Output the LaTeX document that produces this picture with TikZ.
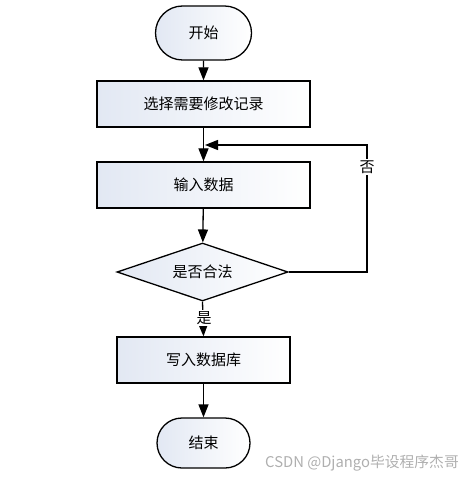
\documentclass[tikz,border=0pt]{standalone}
\usepackage{fontspec}
\setmainfont{Noto Sans CJK SC}
\usepackage{tikz}
\usetikzlibrary{positioning,shapes,calc,arrows.meta}
\usepackage{xcolor}
\definecolor{boxleft}{RGB}{226,232,243}
\definecolor{wmgray}{RGB}{175,175,175}

\tikzset{
  base/.style={draw=black,line width=1.3pt,font=\fontsize{15}{17}\selectfont,
    left color=boxleft,right color=white,inner sep=0pt},
  term/.style={base,rounded rectangle},
  proc/.style={base,rectangle,minimum height=46pt},
  decide/.style={base,diamond,aspect=2.95,minimum width=171pt,minimum height=58pt},
  arr/.style={line width=1.3pt,-{Triangle[width=10pt,length=13pt]}},
  lab/.style={fill=white,inner sep=1.5pt,font=\fontsize{15}{17}\selectfont}
}

\begin{document}
\begin{tikzpicture}[x=1pt,y=-1pt]
  \useasboundingbox (0,0) rectangle (474,478);
  % 流程节点
  \node[term,minimum width=96pt,minimum height=54pt] (start) at (203.5,33) {开始};
  \node[proc,minimum width=213pt] (select) at (203.5,104) {选择需要修改记录};
  \node[proc,minimum width=213pt] (input) at (203.5,185) {输入数据};
  \node[decide] (check) at (202.5,272) {是否合法};
  \node[proc,minimum width=173pt] (write) at (203.5,360) {写入数据库};
  \node[term,minimum width=93pt,minimum height=50pt] (stop) at (203.5,443) {结束};
  % 回路的汇合点
  \coordinate (join) at (205,145);
  \coordinate (corner) at (367,145);
  \draw[arr] (start) -- (select);
  \draw[arr] (select) -- (input);
  \draw[arr] (input) -- (check);
  \draw[arr] (check.south) -- (write.north);
  \draw[arr] (write) -- (stop);
  \draw[arr] (check.east) -| (corner) -- (join);
  \node[lab] (no) at (367,167) {否};
  \node[lab] (yes) at (204,318) {是};
  \node[text=wmgray,font=\fontsize{14.8}{17}\selectfont] (mark) at (362,463) {CSDN @Django毕设程序杰哥};
\end{tikzpicture}
\end{document}
